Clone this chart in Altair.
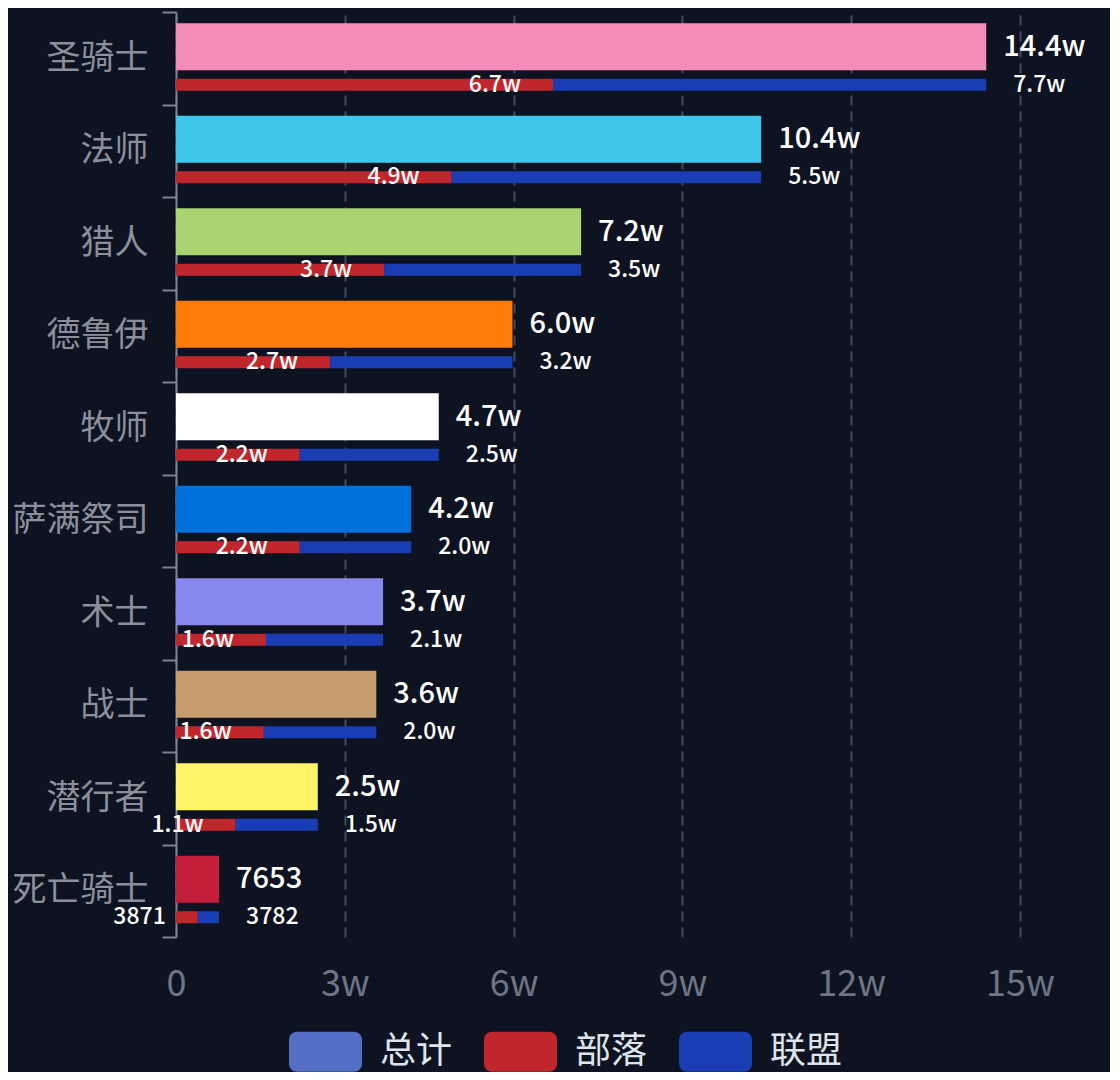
import altair as alt
import pandas as pd

classes = ["圣骑士", "法师", "猎人", "德鲁伊", "牧师", "萨满祭司", "术士", "战士", "潜行者", "死亡骑士"]
totals = [144000, 104000, 72000, 59800, 46700, 41800, 36800, 35600, 25200, 7653]
horde = [67000, 49000, 37000, 27400, 22000, 22000, 16000, 15600, 10600, 3871]
alliance = [77000, 55000, 35000, 32400, 24700, 19800, 20800, 20000, 14600, 3782]
factions = ["总计", "部落", "联盟"]
x_ticks = [0, 30000, 60000, 90000, 120000, 150000]

class_colors = ["#f48cba", "#3fc7eb", "#aad372", "#ff7c0a", "#ffffff",
                "#0070dd", "#8788ee", "#c69b6d", "#fff468", "#c41e3a"]
faction_colors = ["#5470c6", "#c0272d", "#1a3db3"]

FONT = "Noto Sans CJK SC"
BG = "#0e1322"

wide = pd.DataFrame({"class": classes, "total": totals, "horde": horde, "alliance": alliance})
long_rows = []
for c, h, a in zip(classes, horde, alliance):
    long_rows.append({"class": c, "faction": "部落", "value": h, "ord": 0})
    long_rows.append({"class": c, "faction": "联盟", "value": a, "ord": 1})
long = pd.DataFrame(long_rows)

def fmt(field):
    return f"datum.{field} >= 10000 ? format(datum.{field}/10000, '.1f') + 'w' : format(datum.{field}, 'd')"

y_axis = alt.Axis(
    title=None, tickBand="extent", grid=False,
    labelFontSize=34, labelColor="#8b909c", labelFont=FONT,
    labelPadding=14, tickSize=14, tickWidth=2, tickColor="#7c8292",
    domainColor="#7c8292", domainWidth=2,
)
y_enc = alt.Y("class:N", sort=classes, scale=alt.Scale(paddingInner=0, paddingOuter=0), axis=y_axis)

x_scale = alt.Scale(domain=[0, 150000], nice=False)
x_axis = alt.Axis(
    title=None, values=x_ticks,
    labelExpr="datum.value == 0 ? '0' : (datum.value/10000) + 'w'",
    grid=True, gridDash=[10, 6], gridColor="#434a5c", gridWidth=2,
    domain=False, ticks=False, labelFlush=False,
    labelFontSize=36, labelColor="#6e7585", labelFont=FONT, labelPadding=30,
)

base = alt.Chart(wide).transform_calculate(
    total_label=fmt("total"), horde_label=fmt("horde"), alliance_label=fmt("alliance")
)

total_bars = base.mark_bar(height=47, yOffset=-11.5).encode(
    y=y_enc,
    x=alt.X("total:Q", scale=x_scale, axis=x_axis),
    color=alt.Color("class:N", scale=alt.Scale(domain=classes, range=class_colors), legend=None),
)

sub_bars = alt.Chart(long).mark_bar(height=12, yOffset=26.5).encode(
    y=alt.Y("class:N", sort=classes, axis=y_axis),
    x=alt.X("value:Q", stack="zero", scale=x_scale, axis=x_axis),
    color=alt.Color(
        "faction:N",
        scale=alt.Scale(domain=factions, range=faction_colors),
        legend=alt.Legend(
            title=None, orient="none", legendX=113, legendY=1003,
            direction="horizontal",
            symbolType="M-0.78,-0.548L0.78,-0.548A0.22,0.22 0 0 1 1,-0.328L1,0.328A0.22,0.22 0 0 1 0.78,0.548L-0.78,0.548A0.22,0.22 0 0 1 -1,0.328L-1,-0.328A0.22,0.22 0 0 1 -0.78,-0.548Z",
            symbolSize=5329, symbolStrokeWidth=0, symbolOpacity=1,
            labelFontSize=36, labelColor="#dfe3ea", labelFont=FONT,
            labelOffset=18, columnPadding=31, padding=0,
        ),
    ),
    order=alt.Order("ord:Q"),
)

total_text = base.mark_text(
    align="left", baseline="middle", dx=17, dy=-11.5,
    fontSize=29, fontWeight=500, color="white", font=FONT,
).encode(y=alt.Y("class:N", sort=classes, axis=y_axis),
         x=alt.X("total:Q", scale=x_scale, axis=x_axis), text="total_label:N")

horde_text = base.mark_text(
    align="right", baseline="middle", dx=-32, dy=26.5,
    fontSize=23, fontWeight=500, color="white", font=FONT,
).encode(y=alt.Y("class:N", sort=classes, axis=y_axis),
         x=alt.X("horde:Q", scale=x_scale, axis=x_axis), text="horde_label:N")

alliance_text = base.mark_text(
    align="left", baseline="middle", dx=27, dy=26.5,
    fontSize=23, fontWeight=500, color="white", font=FONT,
).encode(y=alt.Y("class:N", sort=classes, axis=y_axis),
         x=alt.X("total:Q", scale=x_scale, axis=x_axis), text="alliance_label:N")

chart = alt.layer(
    total_bars, sub_bars, total_text, horde_text, alliance_text
).resolve_scale(color="independent").properties(
    width=844, height=925,
    autosize=alt.AutoSizeParams(type="none"),
    padding={"left": 168, "top": 4, "right": 90, "bottom": 135},
).configure(
    background=BG, font=FONT
).configure_view(stroke=None)

chart.save("out.html", embed_options={"renderer": "svg", "actions": False})
